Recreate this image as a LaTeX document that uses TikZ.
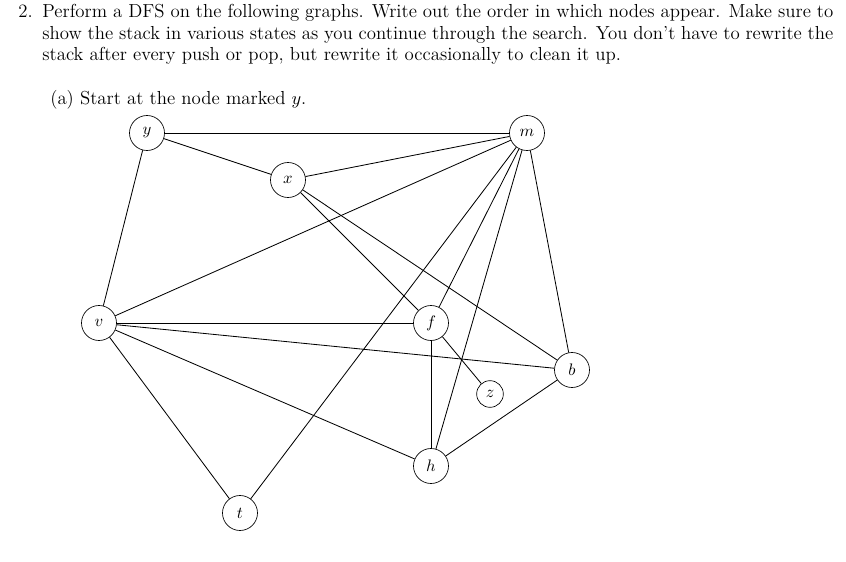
\documentclass[tikz,border=0pt]{standalone}
\begin{document}
\begin{tikzpicture}[x=0.6pt,y=-0.6pt,
  vtx/.style={circle,draw,fill=white,minimum size=21pt,inner sep=0pt},
  svtx/.style={circle,draw,fill=white,minimum size=16pt,inner sep=0pt},
  txtstyle/.style={inner sep=0pt,font=\fontsize{11.3}{12.8}\selectfont},
  edge/.style={draw,line width=0.5pt}]
\useasboundingbox (0,0) rectangle (846,562);
\node[txtstyle,anchor=base west] (num) at (18,18) {2.};
\node[txtstyle,anchor=base west,text width=474.6pt,align=justify] (txt) at (42,18)
 {Perform a DFS on the following graphs. Write out the order in which nodes appear. Make sure to show the stack in various states as you continue through the search. You don't have to rewrite the stack after every push or pop, but rewrite it occasionally to clean it up.};
\node[txtstyle,anchor=base west] (parta) at (50,105) {(a) Start at the node marked $y$.};
\node[vtx] (y) at (147,133) {$y$};
\node[vtx] (m) at (527,133) {$m$};
\node[vtx] (x) at (288,180) {$x$};
\node[vtx] (v) at (99,323) {$v$};
\node[vtx] (f) at (431,323) {$f$};
\node[vtx] (b) at (572,370) {$b$};
\node[svtx] (z) at (490,394) {$z$};
\node[vtx] (h) at (431,466) {$h$};
\node[vtx] (t) at (240,513) {$t$};
\foreach \a/\b in {y/m,y/x,y/v,x/m,x/f,x/b,m/v,m/t,m/f,m/h,m/b,v/f,v/b,v/t,v/h,f/h,f/z,h/b}
  \draw[edge] (\a) -- (\b);
\end{tikzpicture}
\end{document}
